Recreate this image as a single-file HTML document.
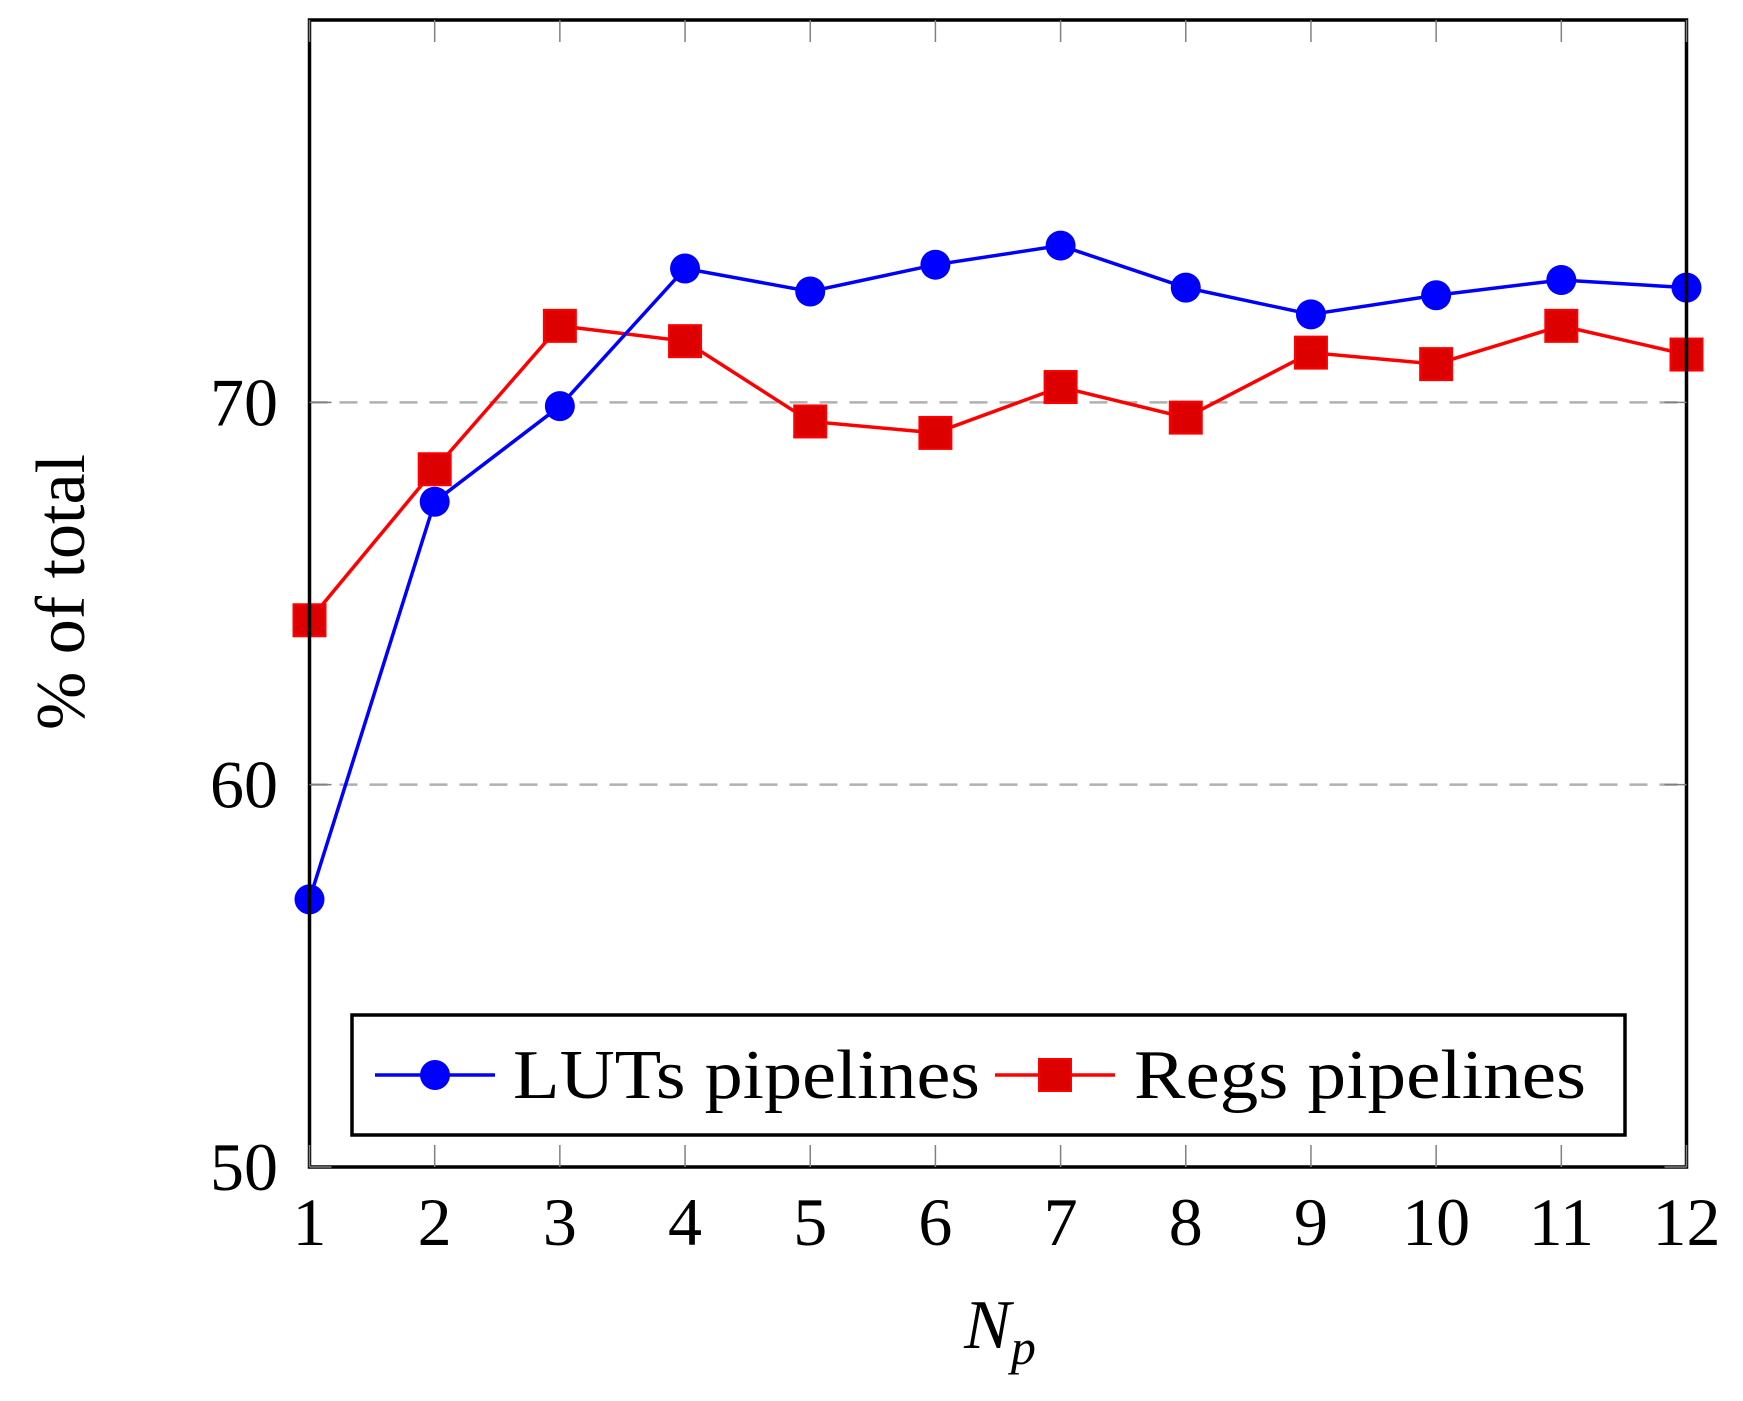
<!DOCTYPE html>
<html><head><meta charset="utf-8"><style>
html,body{margin:0;padding:0;background:#fff;}
svg{display:block;}
text{font-family:"Liberation Serif",serif;fill:#000;}
</style></head><body>
<svg id="chart" width="1743" height="1401" viewBox="0 0 1743 1401">
<g id="grid"></g>
<g id="series"></g>
<rect x="309.5" y="20" width="1377" height="1147" fill="none" stroke="#000" stroke-width="3.5"/>
<g id="xticks"></g>
<g id="yticks"></g>
<text x="0" y="0" font-size="70" text-anchor="middle" transform="translate(84,592) rotate(-90)">% of total</text>
<text x="1000" y="1348" font-size="70" font-style="italic" text-anchor="middle">N<tspan font-size="50" dy="16">p</tspan></text>
<g>
<rect x="352" y="1015" width="1273" height="120" fill="#fff" stroke="#000" stroke-width="3.5"/>
<g>
<line x1="375" y1="1075" x2="495" y2="1075" stroke="#0000ff" stroke-width="3.5"/>
<circle cx="435" cy="1075" r="15" fill="#0000ff"/>
<text x="513" y="1098" font-size="70" textLength="467" lengthAdjust="spacingAndGlyphs">LUTs pipelines</text>
</g>
<g>
<line x1="995" y1="1075" x2="1115" y2="1075" stroke="#ff0000" stroke-width="3.5"/>
<rect x="1039" y="1059" width="32" height="32" fill="#dd0000" stroke="#ff0000" stroke-width="2"/>
<text x="1134" y="1098" font-size="70" textLength="452" lengthAdjust="spacingAndGlyphs">Regs pipelines</text>
</g>
</g>
</svg>
<script>
const categories = [1,2,3,4,5,6,7,8,9,10,11,12];
const lutsValues = [57.0,67.4,69.9,73.5,72.9,73.6,74.1,73.0,72.3,72.8,73.2,73.0];
const regsValues = [64.3,68.25,72.0,71.6,69.5,69.2,70.4,69.6,71.3,71.0,72.0,71.25];
const yTicks = [50,60,70];
const yGrid = [60,70];

const NS = 'http://www.w3.org/2000/svg';
const X0 = 309.5, X1 = 1686.5, Y0 = 1167, YTOP = 20;
const yMin = 50, yMax = 80;
const xs = v => X0 + (v - 1) / (12 - 1) * (X1 - X0);
const ys = v => Y0 - (v - yMin) / (yMax - yMin) * (Y0 - YTOP);
function mk(tag, attrs, parent){ const e=document.createElementNS(NS,tag); for(const k in attrs) e.setAttribute(k,attrs[k]); parent.appendChild(e); return e; }

const grid = document.getElementById('grid');
yGrid.forEach(v=>{
  const l = mk('line',{x1:X0,x2:X1,y1:ys(v),y2:ys(v),stroke:'#b0b0b0','stroke-width':2.5,'stroke-dasharray':'18 12'},grid);
  
  
});

const xt = document.getElementById('xticks');
categories.forEach(c=>{
  const x = xs(c);
  mk('line',{x1:x,x2:x,y1:YTOP,y2:YTOP+22,stroke:'#808080','stroke-width':1.5},xt);
  mk('line',{x1:x,x2:x,y1:Y0,y2:Y0-22,stroke:'#808080','stroke-width':1.5},xt);
  const t = mk('text',{x:x,y:1245,'font-size':68,'text-anchor':'middle'},xt);
  t.textContent = c;
  
  
});
const yt = document.getElementById('yticks');
yTicks.forEach(v=>{
  const y = ys(v);
  mk('line',{x1:X0,x2:X0+22,y1:y,y2:y,stroke:'#808080','stroke-width':1.5},yt);
  mk('line',{x1:X1,x2:X1-22,y1:y,y2:y,stroke:'#808080','stroke-width':1.5},yt);
  const t = mk('text',{x:278,y:y+23,'font-size':68,'text-anchor':'end'},yt);
  t.textContent = v;
  
  
});

const sg = document.getElementById('series');
function drawSeries(vals, color, fill, shape, name){
  const g = mk('g',{},sg);
  
  
  const pts = vals.map((v,i)=>xs(categories[i])+','+ys(v)).join(' ');
  const pl = mk('polyline',{points:pts,fill:'none',stroke:color,'stroke-width':3.5},g);
  
  
  vals.forEach((v,i)=>{
    const x = xs(categories[i]), y = ys(v);
    let m;
    if(shape==='circle') m = mk('circle',{cx:x,cy:y,r:15,fill:fill},g);
    else m = mk('rect',{x:x-16,y:y-16,width:32,height:32,fill:fill,stroke:color,'stroke-width':2},g);
    
    
  });
}
drawSeries(regsValues,'#ff0000','#dd0000','square','regs');
drawSeries(lutsValues,'#0000ff','#0000ff','circle','luts');
</script>
</body></html>
